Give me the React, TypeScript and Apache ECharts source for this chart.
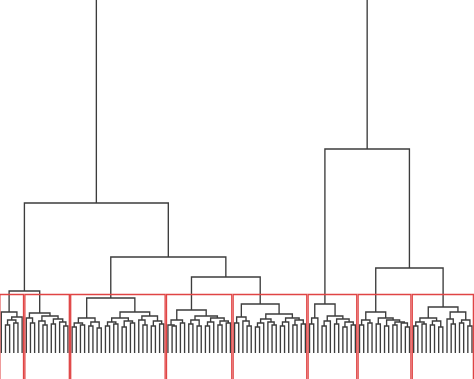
import React, { useEffect, useRef } from "react";
import * as echarts from "echarts";

// A tree is either a leaf (0) or [mergeHeight, left, right]
type Tree = 0 | [number, Tree, Tree];

const cluster1: Tree = [41, 0, [36, [33, [28, 0, 0], [30, 0, 0]], 0]];
const cluster2: Tree = [40, [35, 0, [30, 0, 0]], [37, [32, 0, [28, 0, 0]], [34, [29, 0, 0], [31, 0, [27, 0, 0]]]]];
const cluster3: Tree = [55,
  [35, [30, [26, 0, 0], [28, 0, 0]], [31, [27, 0, 0], [25, 0, 0]]],
  [41,
    [35, [31, [27, 0, 0], [29, 0, 0]], [32, [26, 0, 0], [30, 0, 0]]],
    [37, [33, 0, [28, 0, 0]], [32, [27, 0, 0], [29, 0, 0]]]]];
const cluster4: Tree = [43,
  [33, [28, 0, [27, 0, 0]], [30, 0, 0]],
  [37, [33, [29, 0, 0], [27, 0, 0]], [35, [31, [27, 0, 0], 0], [32, [28, 0, 0], [30, 0, 0]]]]];
const cluster5: Tree = [49,
  [36, [30, 0, 0], [32, 0, [27, 0, 0]]],
  [39,
    [34, [30, [26, 0, 0], 0], [31, 0, [28, 0, 0]]],
    [35, [31, [27, 0, 0], 0], [33, [28, 0, 0], [29, 0, 0]]]]];
const cluster6: Tree = [49,
  [35, [29, 0, 0], 0],
  [37, [32, [27, 0, 0], 0], [34, [29, 0, 0], [31, [26, 0, 0], [28, 0, 0]]]]];
const cluster7: Tree = [41, [33, [28, 0, 0], [30, 0, 0]], [35, [29, 0, 0], [33, [27, 0, 0], [31, [28, 0, 0], [30, 0, [26, 0, 0]]]]]];
const cluster8: Tree = [46,
  [35, [31, [27, 0, 0], [29, 0, 0]], [32, [28, 0, 0], [26, 0, 0]]],
  [41, [34, 0, [29, 0, 0]], [33, [30, 0, 0], [27, 0, 0]]]];

const clusterTrees: Tree[] = [cluster1, cluster2, cluster3, cluster4, cluster5, cluster6, cluster7, cluster8];

// upper merge heights
const mergeA = 62;      // cluster1 + cluster2
const mergeD = 76;      // cluster4 + cluster5
const mergeB = 96;      // cluster3 + D
const mergeE = 85;      // cluster7 + cluster8
const mergeLeft = 150;  // A + B
const mergeRight = 204; // cluster6 + E
const mergeRoot = 450;
const clusterCount = 8;

const fullTree: Tree = [mergeRoot,
  [mergeLeft, [mergeA, cluster1, cluster2], [mergeB, cluster3, [mergeD, cluster4, cluster5]]],
  [mergeRight, cluster6, [mergeE, cluster7, cluster8]]];

function countLeaves(t: Tree): number {
  return t === 0 ? 1 : countLeaves(t[1]) + countLeaves(t[2]);
}

function buildLinks() {
  const links: number[][] = [];
  const heights: number[] = [];
  let counter = 1;
  const walk = (t: Tree): { x: number; h: number } => {
    if (t === 0) {
      const x = counter;
      counter += 1;
      return { x, h: 0 };
    }
    const l = walk(t[1]);
    const r = walk(t[2]);
    links.push([l.x, l.h, r.x, r.h, t[0]]);
    heights.push(t[0]);
    return { x: (l.x + r.x) / 2, h: t[0] };
  };
  walk(fullTree);
  return { links, heights, n: counter - 1 };
}

export default function App() {
  const ref = useRef<HTMLDivElement>(null);
  useEffect(() => {
    if (!ref.current) return;
    const chart = echarts.init(ref.current, undefined, { renderer: "svg" });
    const { links, heights } = buildLinks();
    const sorted = [...heights].sort((a, b) => b - a);
    const boxTop = (sorted[clusterCount - 2] + sorted[clusterCount - 1]) / 2;
    const boxes: number[][] = [];
    let start = 1;
    clusterTrees.forEach((t) => {
      const c = countLeaves(t);
      boxes.push([start - 0.34, start + c - 1 + 0.33, boxTop, -40]);
      start += c;
    });

    chart.setOption({
      animation: false,
      grid: { left: 0, right: 0, top: 0, bottom: 0, containLabel: false },
      xAxis: { type: "value", min: 0.688, max: 114.48, show: false },
      yAxis: { type: "value", min: -26, max: 353, show: false },
      series: [
        {
          type: "custom",
          clip: true,
          silent: true,
          encode: { x: [0, 2], y: [1, 3, 4] },
          data: links,
          renderItem: (_p: any, api: any) => {
            const x1 = api.value(0), h1 = api.value(1), x2 = api.value(2), h2 = api.value(3), h = api.value(4);
            const pts = [api.coord([x1, h1]), api.coord([x1, h]), api.coord([x2, h]), api.coord([x2, h2])];
            return {
              type: "polyline",
              shape: { points: pts },
              style: { stroke: "#3c3c3c", lineWidth: 1.35, fill: "none" },
            };
          },
        },
        {
          type: "custom",
          clip: true,
          silent: true,
          encode: { x: [0, 1], y: [2, 3] },
          data: boxes,
          renderItem: (_p: any, api: any) => {
            const a = api.coord([api.value(0), api.value(2)]);
            const b = api.coord([api.value(1), api.value(3)]);
            return {
              type: "rect",
              shape: { x: a[0], y: a[1], width: b[0] - a[0], height: b[1] - a[1] },
              style: { stroke: "#e04444", lineWidth: 1.3, fill: "none" },
            };
          },
        },
      ],
    });
    return () => chart.dispose();
  }, []);
  return (
    <div
      ref={ref}
      style={{ position: "fixed", left: 0, top: 0, width: 474, height: 379, background: "#fff" }}
    />
  );
}
